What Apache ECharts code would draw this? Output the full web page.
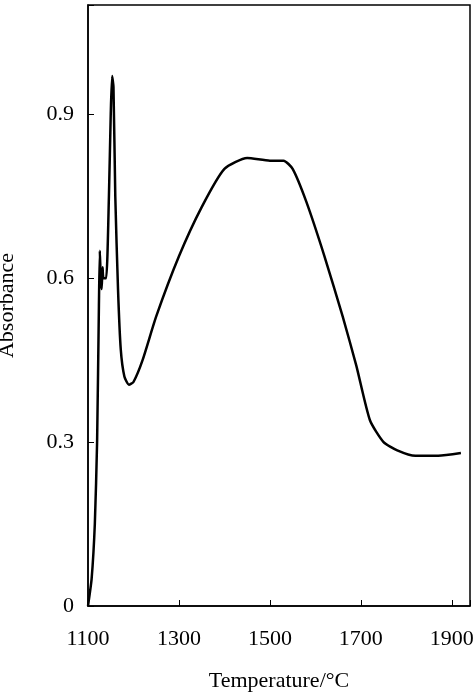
<!DOCTYPE html>
<html>
<head>
<meta charset="utf-8">
<script src="https://cdn.jsdelivr.net/npm/echarts@6/dist/echarts.min.js"></script>
<style>html,body{margin:0;padding:0;background:#fff}#chart{width:474px;height:697px}</style>
</head>
<body>
<div id="chart"></div>
<script>
var temps = [1100, 1108, 1115, 1120, 1124, 1126, 1128, 1130, 1132, 1134, 1140, 1146, 1150, 1153, 1156, 1160, 1166, 1172, 1180, 1190, 1200, 1220, 1250, 1300, 1350, 1400, 1450, 1500, 1530, 1550, 1580, 1620, 1660, 1690, 1720, 1750, 1780, 1820, 1870, 1920];
var absorb = [0, 0.05, 0.15, 0.3, 0.55, 0.65, 0.6, 0.58, 0.62, 0.6, 0.6, 0.75, 0.9, 0.97, 0.95, 0.75, 0.58, 0.47, 0.42, 0.405, 0.41, 0.45, 0.53, 0.64, 0.73, 0.8, 0.82, 0.815, 0.815, 0.8, 0.74, 0.64, 0.53, 0.44, 0.34, 0.3, 0.285, 0.275, 0.275, 0.28];
var xTicks = [1100, 1300, 1500, 1700, 1900];
var yTicks = [0, 0.3, 0.6, 0.9];

var font = 'Liberation Serif';
var chart = echarts.init(document.getElementById('chart'));
chart.setOption({
    animation: false,
    grid: { left: 88, right: 4, top: 5, bottom: 91, show: true, borderColor: '#000', borderWidth: 1.5, containLabel: false, outerBoundsMode: 'none' },
    xAxis: {
        type: 'value', min: 1100, max: 1940, interval: 200,
        name: 'Temperature/°C', nameLocation: 'middle', nameGap: 64,
        nameTextStyle: { fontFamily: font, fontSize: 22, color: '#000' },
        axisLine: { lineStyle: { color: '#000', width: 1.5 } },
        axisTick: { inside: true, length: 6, lineStyle: { color: '#000' } },
        axisLabel: { fontFamily: font, fontSize: 22, color: '#000', margin: 22,
            formatter: function (v) { return xTicks.indexOf(v) >= 0 ? v : ''; } },
        splitLine: { show: false }
    },
    yAxis: {
        type: 'value', min: 0, max: 1.1, interval: 0.3,
        name: 'Absorbance', nameLocation: 'middle', nameGap: 70,
        nameTextStyle: { fontFamily: font, fontSize: 22, color: '#000' },
        axisLine: { lineStyle: { color: '#000', width: 1.5 } },
        axisTick: { inside: true, length: 6, lineStyle: { color: '#000' } },
        axisLabel: { fontFamily: font, fontSize: 22, color: '#000', margin: 14,
            formatter: function (v) { var r = Math.round(v * 10) / 10; return yTicks.indexOf(r) >= 0 ? (r === 0 ? '0' : r.toFixed(1)) : ''; } },
        splitLine: { show: false }
    },
    series: [{
        type: 'line',
        data: temps.map(function (t, i) { return [t, absorb[i]]; }),
        showSymbol: false,
        smooth: 0.2,
        lineStyle: { color: '#000', width: 2.5 }
    }]
});
</script>
</body>
</html>
